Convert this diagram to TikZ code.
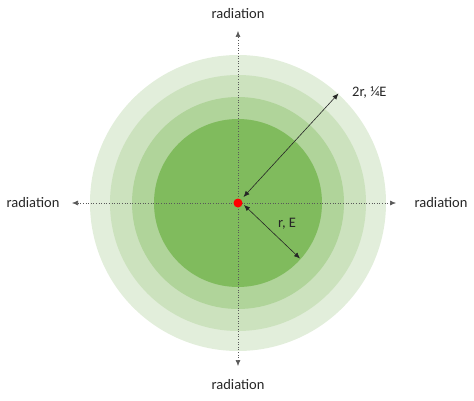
\documentclass[tikz,border=0pt]{standalone}
\usepackage{fontspec}
\setmainfont{Carlito}
\usetikzlibrary{arrows.meta}
\begin{document}
\begin{tikzpicture}[x=1pt,y=1pt,
  ring/.style={circle, draw=none, inner sep=0pt},
  lbl/.style={font=\fontsize{14.5}{16}\selectfont, text=black!85, inner sep=1pt},
  axis/.style={dotted, line width=0.6pt, draw=black!65, {Latex[length=6pt,width=5pt]}-{Latex[length=6pt,width=5pt]}},
  dim/.style={line width=0.6pt, draw=black!85, {Latex[length=6pt,width=5pt]}-{Latex[length=6pt,width=5pt]}}]
\useasboundingbox (0,0) rectangle (474,400);
\coordinate (C) at (238,197);
\node[ring, minimum size=296pt, fill={rgb,255:red,226;green,238;blue,219}] (r4) at (C) {};
\node[ring, minimum size=256pt, fill={rgb,255:red,204;green,226;blue,190}] (r3) at (C) {};
\node[ring, minimum size=212pt, fill={rgb,255:red,176;green,212;blue,154}] (r2) at (C) {};
\node[ring, minimum size=168pt, fill={rgb,255:red,128;green,187;blue,93}] (r1) at (C) {};
\coordinate (L) at (72,197);
\coordinate (R) at (396,197);
\coordinate (T) at (238,369);
\coordinate (B) at (238,34);
\draw[axis] (L) -- (R);
\draw[axis] (B) -- (T);
\node[circle, fill=red, inner sep=0pt, minimum size=9pt] (dot) at (C) {};
\coordinate (A1) at (243.5,203);
\coordinate (A2) at (338.5,306.5);
\coordinate (B1) at (244,195);
\coordinate (B2) at (300,141.5);
\draw[dim] (A1) -- (A2);
\draw[dim] (B1) -- (B2);
\node[lbl] (t) at (238,386) {radiation};
\node[lbl] (b) at (238,15) {radiation};
\node[lbl] (l) at (33,197) {radiation};
\node[lbl] (r) at (441,197) {radiation};
\node[lbl, anchor=west] (l2) at (351,307) {2r, ¼E};
\node[lbl, anchor=west] (l1) at (277,176) {r, E};
\end{tikzpicture}
\end{document}
